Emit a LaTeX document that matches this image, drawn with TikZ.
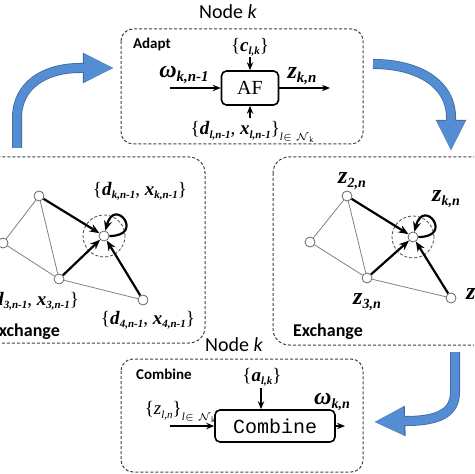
\documentclass[tikz,border=0pt]{standalone}
\usepackage{amsmath}
\usepackage{fontspec}
\setsansfont{Carlito}
\newfontfamily\afont{Liberation Serif}
\newfontfamily\cfont{Liberation Mono}
\usetikzlibrary{arrows.meta}
\definecolor{turnblue}{RGB}{84,141,212}
\definecolor{turnedge}{RGB}{62,108,160}
% bold italic symbol with a small lowered index
\newcommand{\tv}[3][5.5]{\textbf{\textit{#2}}\raisebox{-0.35ex}{\fontsize{#1}{#1}\selectfont\textbf{\textit{#3}}}}
\newcommand{\setidx}{\raisebox{-0.6ex}{\fontsize{5.5}{6}\selectfont\textit{l}$\in\mathcal{N}$\raisebox{-0.4ex}{\fontsize{4}{4}\selectfont k}}}

\begin{document}
\begin{tikzpicture}[
        x=0.5pt, y=-0.5pt,
        font=\afont\fontsize{9.5}{11}\selectfont,
        panel/.style={
            draw=black!75, line width=0.5pt,
            dash pattern=on 1.5pt off 1pt, rounded corners=6pt
        },
        title/.style={font=\sffamily\fontsize{10}{12}\selectfont},
        tag/.style={anchor=west, font=\sffamily\bfseries\fontsize{7.5}{9}\selectfont},
        bigtag/.style={anchor=west, font=\sffamily\bfseries\fontsize{9}{10}\selectfont},
        block/.style={draw, rounded corners=2.5pt, line width=0.8pt, inner sep=0pt},
        sym/.style={font=\afont\fontsize{12}{14}\selectfont},
        flow/.style={-{Stealth[length=4pt, width=3.2pt]}, line width=0.6pt},
        dot/.style={
            circle, draw=black!60, fill=white, line width=0.4pt,
            minimum size=5pt, inner sep=0pt
        },
        hood/.style={
            circle, draw=black!70, dash pattern=on 1.5pt off 1pt,
            minimum size=21pt, inner sep=0pt
        },
        link/.style={draw=black!50, line width=0.4pt},
        feed/.style={-{Stealth[length=5pt, width=4pt]}, line width=1.1pt},
        turn/.style={
            draw=turnblue, line width=4.2pt, -{Triangle[length=15pt, width=13pt]},
            preaction={draw=turnedge, line width=5pt, -{Triangle[length=15.6pt, width=14pt]}}
        }
        ]

        % --- Frame ---
        \useasboundingbox (0,0) rectangle (474,474);
        \clip (0,0) rectangle (474,474);

        % --- Titles ---
        \node[title] (nodetop) at (228,12) {Node \textit{k}};
        \node[title] (nodebot) at (234,345) {Node \textit{k}};

        % --- Dashed panels ---
        \draw[panel] (121,29) rectangle (363,144);
        \draw[panel] (121,359) rectangle (363,472);
        \draw[panel, rounded corners=8pt] (-40,157) rectangle (205,343);
        \draw[panel, rounded corners=8pt] (273,157) rectangle (520,345);

        \node[tag] (adapt) at (126,44) {Adapt};
        \node[tag] (combine) at (129,374) {Combine};
        \node[bigtag] (exleft) at (-17,332) {Exchange};
        \node[bigtag] (exright) at (286,332) {Exchange};

        % --- Blue turn arrows ---
        \coordinate (upstart) at (17,148);
        \coordinate (upend) at (114,68);
        \draw[turn] (upstart) -- (17,118) .. controls (17,85) and (45,68) .. (80,68) -- (upend);

        \coordinate (downstart) at (373,64);
        \coordinate (downend) at (451,151);
        \draw[turn] (downstart) .. controls (420,64) and (451,85) .. (451,117) -- (downend);

        \coordinate (backstart) at (455,352);
        \coordinate (backend) at (374,422);
        \draw[turn] (backstart) -- (455,392) .. controls (455,412) and (440,421) .. (406,421) -- (backend);

        % --- Adapt ---
        \node[block, minimum width=28.5pt, minimum height=17pt] (af) at (250,88) {\fontsize{10}{12}\selectfont AF};
        \node (clk) at (250,47) {\{\tv{c}{l,k}\}};
        \node[sym] (win) at (184,75) {\tv[7.5]{ω}{k,n-1}};
        \node[sym] (zout) at (302,76) {\tv[7.5]{z}{k,n}};
        \node (dxl) at (252,132) {\{\tv{d}{l,n-1}, \tv{x}{l,n-1}\}\setidx};
        \coordinate (cin) at (250,57);
        \coordinate (afin) at (170,88);
        \coordinate (afout) at (330,88);
        \coordinate (din) at (250,118);
        \draw[flow] (cin) -- (af);
        \draw[flow] (din) -- (af);
        \draw[flow] (afin) -- (af);
        \draw[flow] (af) -- (afout);

        % --- Combine ---
        \node[block, minimum width=60pt, minimum height=16pt] (comb) at (275,426) {\cfont\fontsize{10}{12}\selectfont Combine};
        \node (alk) at (262,377) {\{\tv{a}{l,k}\}};
        \node (zln) at (180,412) {\{\textit{z}\raisebox{-0.35ex}{\fontsize{5.5}{6}\selectfont\textit{l,n}}\}\setidx};
        \node[sym] (wout) at (332,402) {\tv[7]{ω}{k,n}};
        \coordinate (ain) at (261,388);
        \coordinate (combin) at (170,426);
        \coordinate (combout) at (345,426);
        \draw[flow] (ain) -- (ain |- comb.north);
        \draw[flow] (combin) -- (comb);
        \draw[flow] (comb) -- (combout);

        % --- Exchange, left ---
        \node[hood] (lhood) at (104,236) {};
        \node[dot] (la) at (39,196) {};
        \node[dot] (lb) at (3,243) {};
        \node[dot] (lc) at (59,279) {};
        \node[dot] (ld) at (143,300) {};
        \node[dot] (lk) at (104,236) {};
        \draw[link] (la) -- (lb);
        \draw[link] (la) -- (lc);
        \draw[link] (lb) -- (lc);
        \draw[link] (lc) -- (ld);
        \draw[feed] (la) -- (lk);
        \draw[feed] (lc) -- (lk);
        \draw[feed] (ld) -- (lk);
        \draw[feed] (lk) to[out=0, in=75, min distance=18pt] (lk);
        \node (lktext) at (140,191) {\{\tv{d}{k,n-1}, \tv{x}{k,n-1}\}};
        \node[anchor=east] (l3text) at (86,301) {\{\tv{d}{3,n-1}, \tv{x}{3,n-1}\}};
        \node (l4text) at (148,320) {\{\tv{d}{4,n-1}, \tv{x}{4,n-1}\}};

        % --- Exchange, right ---
        \node[hood] (rhood) at (413,237) {};
        \node[dot] (ra) at (347,196) {};
        \node[dot] (rb) at (310,242) {};
        \node[dot] (rc) at (367,278) {};
        \node[dot] (rd) at (451,298) {};
        \node[dot] (rk) at (413,237) {};
        \draw[link] (ra) -- (rb);
        \draw[link] (ra) -- (rc);
        \draw[link] (rb) -- (rc);
        \draw[link] (rc) -- (rd);
        \draw[feed] (ra) -- (rk);
        \draw[feed] (rc) -- (rk);
        \draw[feed] (rd) -- (rk);
        \draw[feed] (rk) to[out=0, in=75, min distance=18pt] (rk);
        \node[sym] (r2text) at (352,181) {\tv[7]{z}{2,n}};
        \node[sym] (rktext) at (446,199) {\tv[7]{z}{k,n}};
        \node[sym] (r3text) at (367,302) {\tv[7]{z}{3,n}};
        \node[sym, anchor=west] (r4text) at (459,297) {\tv[7]{z}{4,n}};

    \end{tikzpicture}
\end{document}
